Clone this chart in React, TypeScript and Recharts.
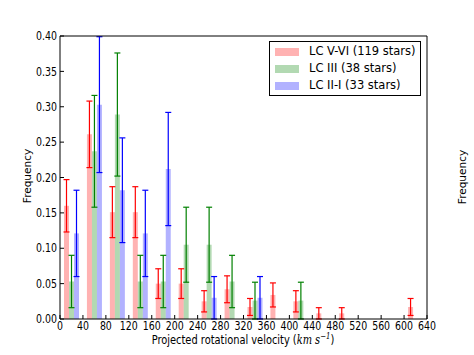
import { ComposedChart, Bar, ErrorBar, XAxis, YAxis } from 'recharts';

// bin starts (km/s), width 40
const bins = [0, 40, 80, 120, 160, 200, 240, 280, 320, 360, 400, 440, 480, 520, 560, 600];

const lcVVI = [0.160, 0.261, 0.151, 0.151, 0.050, 0.050, 0.025, 0.042, 0.017, 0.034, 0.025, 0.008, 0.008, null, null, 0.017];
const lcVVIErr = [0.037, 0.047, 0.036, 0.036, 0.021, 0.021, 0.015, 0.019, 0.012, 0.017, 0.015, 0.008, 0.008, null, null, 0.012];

const lcIII = [0.053, 0.237, 0.289, 0.053, 0.053, 0.105, 0.105, 0.053, 0.026, null, 0.026, null, null, null, null, null];
const lcIIIErr = [0.037, 0.079, 0.087, 0.037, 0.037, 0.053, 0.053, 0.037, 0.026, null, 0.026, null, null, null, null, null];

const lcIII_I = [0.121, 0.303, 0.182, 0.121, 0.212, null, 0.030, null, 0.030, null, null, null, null, null, null, null];
const lcIII_IErr = [0.061, 0.096, 0.074, 0.061, 0.080, null, 0.030, null, 0.030, null, null, null, null, null, null, null];

const xTicks = [0, 40, 80, 120, 160, 200, 240, 280, 320, 360, 400, 440, 480, 520, 560, 600, 640];
const yTicks = [0, 0.05, 0.1, 0.15, 0.2, 0.25, 0.3, 0.35, 0.4];

const series = [
  { key: 'v', name: 'LC V-VI (119 stars)', color: '#ff0000' },
  { key: 'iii', name: 'LC III (38 stars)', color: '#008000' },
  { key: 'i', name: 'LC II-I (33 stars)', color: '#0000ff' },
];

const data = bins.map((b, i) => ({
  bin: b,
  v: lcVVI[i],
  vErr: lcVVIErr[i],
  iii: lcIII[i],
  iiiErr: lcIIIErr[i],
  i: lcIII_I[i],
  iErr: lcIII_IErr[i],
}));

const font = 'DejaVu Sans, sans-serif';
const axisColor = '#000';
// the source figure is slightly squeezed horizontally
const squeeze = 0.82;

function XTick(props: any) {
  const { x, y, payload } = props;
  return (
    <g transform={`translate(${x},${y})`}>
      <text transform={`scale(${squeeze},1)`} textAnchor="middle" dy="0.75em" fontSize={11.5} fontFamily={font} fill="#000">
        {payload.value}
      </text>
    </g>
  );
}

function YTick(props: any) {
  const { x, y, payload } = props;
  return (
    <g transform={`translate(${x},${y})`}>
      <text transform={`scale(${squeeze},1)`} textAnchor="end" dy="0.36em" fontSize={11.5} fontFamily={font} fill="#000">
        {Number(payload.value).toFixed(2)}
      </text>
    </g>
  );
}

function LegendBox() {
  return (
    <div
      style={{
        position: 'absolute',
        left: 269,
        top: 41,
        width: 152,
        boxSizing: 'border-box',
        border: '1px solid #000',
        background: '#fff',
        padding: '1px 0 1px 5px',
        fontFamily: font,
        fontSize: 11.5,
        lineHeight: '17px',
      }}
    >
      {series.map((s) => (
        <div key={s.key} style={{ display: 'flex', alignItems: 'center', whiteSpace: 'nowrap' }}>
          <span
            style={{
              display: 'inline-block',
              width: 24,
              height: 8,
              background: s.color,
              opacity: 0.3,
              marginRight: 10,
            }}
          />
          <span>{s.name}</span>
        </div>
      ))}
    </div>
  );
}

export default function App() {
  return (
    <div style={{ position: 'absolute', left: 0, top: 0, width: 474, height: 355, background: '#fff' }}>
      <ComposedChart
        width={474}
        height={355}
        data={data}
        margin={{ top: 26, right: 37, bottom: 16, left: 20 }}
        barGap={0}
        barCategoryGap={0}
      >
        <XAxis xAxisId="cat" dataKey="bin" type="category" hide height={0} />
        <XAxis
          xAxisId="num"
          dataKey="bin"
          type="number"
          domain={[0, 640]}
          ticks={xTicks}
          allowDataOverflow
          height={20}
          tick={<XTick />}
          tickSize={-4}
          tickMargin={6}
          interval={0}
          axisLine={{ stroke: axisColor }}
          tickLine={{ stroke: axisColor }}
        />
        <XAxis
          xAxisId="top"
          dataKey="bin"
          orientation="top"
          type="number"
          domain={[0, 640]}
          ticks={xTicks}
          allowDataOverflow
          height={10}
          tick={false}
          tickSize={-4}
          interval={0}
          axisLine={{ stroke: axisColor }}
          tickLine={{ stroke: axisColor }}
        />
        <YAxis
          yAxisId="left"
          type="number"
          domain={[0, 0.4]}
          ticks={yTicks}
          allowDataOverflow
          width={40}
          tick={<YTick />}
          tickSize={-4}
          tickMargin={7}
          interval={0}
          axisLine={{ stroke: axisColor }}
          tickLine={{ stroke: axisColor }}
        />
        <YAxis
          yAxisId="right"
          orientation="right"
          type="number"
          domain={[0, 0.4]}
          ticks={yTicks}
          allowDataOverflow
          width={10}
          tick={false}
          tickSize={-4}
          interval={0}
          axisLine={{ stroke: axisColor }}
          tickLine={{ stroke: axisColor }}
        />
        {series.map((s) => (
          <Bar
            key={s.key}
            xAxisId="cat"
            yAxisId="left"
            dataKey={s.key}
            name={s.name}
            fill={s.color}
            fillOpacity={0.3}
            barSize={5}
            isAnimationActive={false}
          >
            <ErrorBar dataKey={`${s.key}Err`} width={3} stroke={s.color} strokeWidth={1.2} direction="y" />
          </Bar>
        ))}
      </ComposedChart>
      <LegendBox />
      <div
        style={{
          position: 'absolute',
          left: 27,
          top: 176,
          transform: 'translate(-50%, -50%) rotate(-90deg)',
          fontFamily: font,
          fontSize: 10.5,
          whiteSpace: 'nowrap',
        }}
      >
        Frequency
      </div>
      <div
        style={{
          position: 'absolute',
          left: 462,
          top: 177,
          transform: 'translate(-50%, -50%) rotate(-90deg)',
          fontFamily: font,
          fontSize: 10.5,
          whiteSpace: 'nowrap',
        }}
      >
        Frequency
      </div>
      <div
        style={{
          position: 'absolute',
          left: 243,
          top: 339,
          transform: `translate(-50%, -50%) scale(${squeeze},1)`,
          fontFamily: font,
          fontSize: 12,
          whiteSpace: 'nowrap',
        }}
      >
        Projected rotational velocity (<i style={{ fontFamily: 'DejaVu Serif, serif' }}>km s</i>
        <sup style={{ fontSize: 8.5 }}>
          <i style={{ fontFamily: 'DejaVu Serif, serif' }}>−1</i>
        </sup>
        )
      </div>
    </div>
  );
}
